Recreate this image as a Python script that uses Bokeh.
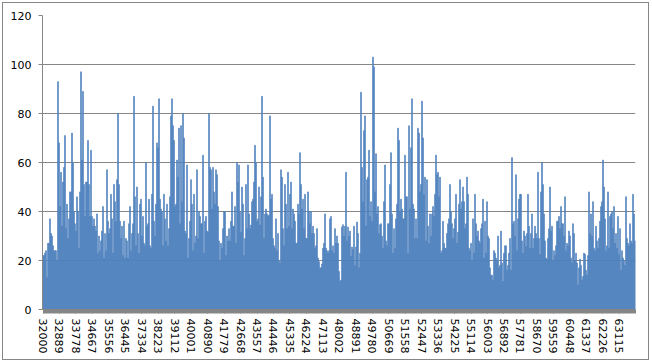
from bokeh.plotting import figure
from bokeh.models import Range1d, FixedTicker
from bokeh.embed import file_html
from bokeh.resources import INLINE

# Values, one per rendered column (each ~54 categories)
seg_a = [22, 22, 23, 24, 13, 27, 27, 37, 31, 30, 26, 24, 24, 24, 20, 93,
         68, 42, 56, 34, 52, 58, 71, 33, 43, 29, 37, 48, 48, 72, 60, 40, 35, 32, 46, 40, 25, 48, 97]
seg_b = [61, 89, 51, 38, 52, 52, 69, 51, 38, 65, 38, 34, 37, 34, 32, 39, 23, 30, 24, 28,
         32, 42, 21, 31, 24, 57, 36, 31, 33, 47, 37, 23, 51, 44, 36, 53, 80, 51, 36, 29,
         34, 22, 36, 21, 29, 28, 21, 35, 42, 24, 31, 35, 87, 46, 26, 50, 31, 23, 43, 45,
         30, 38, 27, 26, 60, 34, 35, 45, 26, 25, 47, 83, 36, 30, 43, 68, 66, 86, 45, 41,
         40, 26, 47, 37, 28, 43, 26, 33, 46, 79, 86, 75, 69, 42, 43, 61, 54, 74, 35, 75,
         44, 80, 70, 32, 31, 59, 21, 29, 36, 53, 43, 24, 47, 27, 30, 57, 29, 40, 38]
seg_c = [35, 35, 63, 23, 36, 38, 32, 31.5, 80, 58, 57, 41, 58, 48, 43, 57, 55, 42, 28, 20]
seg_d = [27, 25, 33, 40, 40, 22, 30, 28, 33, 28, 36, 48, 34, 34, 42, 27, 60, 52, 59, 40,
         31.5, 50, 43, 22, 29, 51, 33, 59, 39, 33, 34.5, 44, 45, 52, 67, 60, 36, 37, 50, 34.5,
         46, 87, 54, 29, 39, 41, 39, 38, 38.5, 79, 45, 47, 29, 26, 25, 37, 24, 31, 20, 19]
seg_e = [57, 54, 33, 26, 51, 43, 33, 56, 34, 47, 52, 33, 41, 39, 36, 27, 27, 43, 39, 64,
         51, 41, 45, 33, 47, 29, 29, 48, 40, 35, 40, 31, 34, 31, 25, 26, 33, 21, 19.5, 17,
         17, 18.6, 25, 27, 39, 25, 24, 23, 24, 37, 38, 24, 26, 23, 33, 27, 30, 27, 15.5, 11.4]
seg_f = [12, 33.7, 34.6, 30, 34, 56, 28, 33.7, 30, 32, 21.7, 25.5, 24.5, 34, 18, 25.5, 35.7, 31, 17, 23,
         88.7, 58, 44, 73, 79, 34, 53, 54, 65, 38, 44, 36, 103, 99, 48, 63.6, 39, 42, 31, 34.6,
         35, 30, 25, 44, 59, 28, 26, 35, 35, 51, 64, 39, 23, 33, 25, 37, 43, 74, 69, 40]
seg_g = [45, 41, 37, 37, 63, 46, 46, 23, 75, 41, 66, 86, 43, 41, 29, 37, 29, 74, 72, 48,
         51, 85, 70, 47, 54, 28, 53, 34, 27, 39, 30, 39, 42, 38, 47, 63, 55, 56, 46, 54,
         23, 24, 36, 27, 25, 25, 31, 35, 37, 51, 40, 35, 29, 33, 37, 47, 27, 31.5, 43, 53]
seg_h = [41, 44, 50, 44, 33, 35, 54, 47, 25, 24, 27, 20, 37, 23, 47, 35, 30, 32, 28, 27,
         33, 35, 45, 21, 36, 23, 44, 30, 29, 17, 14, 14, 12, 24, 23, 21, 20, 30, 17, 18,
         32, 19, 11.4, 23, 26, 26, 16, 18, 23, 29, 16, 62, 35, 36, 30, 55, 24, 37, 45, 47]
seg_i = [47, 28, 23, 32, 30, 25.7, 31, 47, 34, 25, 31, 39, 25, 29, 34, 31, 29, 56, 29, 22.5,
         48, 60, 51, 39, 28, 21, 20.5, 29, 33, 50, 32, 34, 20, 24, 22, 26, 36, 36, 38, 33,
         42, 35, 35, 30, 46, 24, 27, 26, 32, 30, 21, 19, 35, 31, 20, 23, 19, 10, 17, 20.5]
seg_j = [18, 12, 13.5, 23, 22.5, 16, 14, 22, 48, 31, 39, 30, 44, 25, 24, 34, 28, 25, 29, 36,
         42, 44, 61, 50, 37, 24, 26, 48, 25, 38, 39, 40, 33, 42, 27, 31, 25, 38, 22.5, 33,
         16, 24, 21, 20, 18, 46, 29, 27, 26, 35, 28, 27, 47, 39, 28]

first_category = 32000
bin_size = 54          # categories per drawn column
label_step = 889       # category label interval
y_ticks = [0, 20, 40, 60, 80, 100, 120]

values = seg_a + seg_b + seg_c + seg_d + seg_e + seg_f + seg_g + seg_h + seg_i + seg_j
xs = [first_category + i * bin_size for i in range(len(values))]
x_start = first_category - bin_size / 2
x_end = x_start + len(values) * bin_size
label_ticks = [first_category + k * label_step for k in range(40)
               if first_category + k * label_step <= x_end]

GREY = "#868686"
BLUE = "#4F81BD"

p = figure(frame_width=len(values), frame_height=294,
           x_range=Range1d(x_start, x_end), y_range=Range1d(0, 120),
           output_backend="svg", toolbar_location=None,
           min_border_left=39, min_border_right=13, min_border_top=12, min_border_bottom=50)
p.styles = {"border": "1px solid " + GREY, "margin": "2px"}
p.outline_line_color = None
p.background_fill_color = "white"
p.border_fill_color = "white"

p.vbar(x=xs, top=values, width=bin_size, bottom=0, fill_color=BLUE,
       line_color=BLUE, line_width=0.6)

# y axis
p.yaxis.ticker = FixedTicker(ticks=y_ticks)
p.yaxis.axis_line_color = GREY
p.yaxis.major_tick_line_color = GREY
p.yaxis.major_tick_out = 4
p.yaxis.major_tick_in = 0
p.yaxis.minor_tick_line_color = None
p.yaxis.major_label_standoff = 7
p.yaxis.major_label_text_font = "DejaVu Sans"
p.yaxis.major_label_text_font_size = "11px"
p.yaxis.major_label_text_color = "#000000"

# x axis
p.xaxis.ticker = FixedTicker(ticks=label_ticks, minor_ticks=xs)
p.xaxis.major_label_overrides = {t: str(t) for t in label_ticks}
p.xaxis.axis_line_color = GREY
p.xaxis.major_tick_line_color = GREY
p.xaxis.major_tick_out = 4
p.xaxis.major_tick_in = 0
p.xaxis.minor_tick_line_color = GREY
p.xaxis.minor_tick_out = 4
p.xaxis.minor_tick_in = 0
p.xaxis.major_label_orientation = "vertical"
p.xaxis.major_label_standoff = 5
p.xaxis.major_label_text_font = "DejaVu Sans"
p.xaxis.major_label_text_font_size = "11px"
p.xaxis.major_label_text_color = "#000000"

p.xgrid.grid_line_color = None
p.ygrid.ticker = FixedTicker(ticks=y_ticks)
p.ygrid.grid_line_color = GREY
p.ygrid.grid_line_width = 1

open("out.html", "w").write(file_html(p, INLINE))
